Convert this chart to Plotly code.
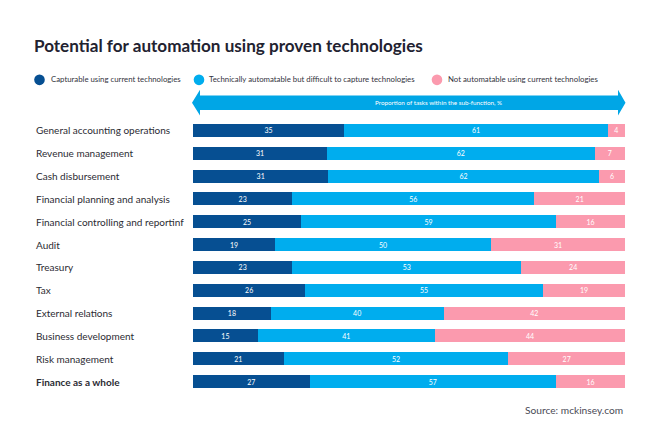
import plotly.graph_objects as go

categories = [
    "General accounting operations", "Revenue management", "Cash disbursement",
    "Financial planning and analysis", "Financial controlling and reportinf",
    "Audit", "Treasury", "Tax", "External relations", "Business development",
    "Risk management", "Finance as a whole",
]
capturable = [35, 31, 31, 23, 25, 19, 23, 26, 18, 15, 21, 27]
difficult = [61, 62, 62, 56, 59, 50, 53, 55, 40, 41, 52, 57]
not_auto = [4, 7, 6, 21, 16, 31, 24, 19, 42, 44, 27, 16]
series_names = [
    "Capturable using current technologies",
    "Technically automatable but difficult to capture technologies",
    "Not automatable using current technologies",
]
colors = ["#064f92", "#00adee", "#fb9aae"]

OFF = 8  # page body margin
W, H = 659 - OFF, 439 - OFF
L, R = 193 - OFF, 34
T = 119.1 - OFF
B = H - (392.7 - OFF)
pw, ph = W - L - R, H - T - B

def px_x(x):  # reference pixel -> paper x
    return (x - OFF - L) / pw

def px_y(y):  # reference pixel -> paper y
    return (H - B - (y - OFF)) / ph

FONT = "Lato"
fig = go.Figure()
for name, vals, c in zip(series_names, [capturable, difficult, not_auto], colors):
    fig.add_trace(go.Bar(
        y=categories, x=vals, orientation="h", name=name, showlegend=False,
        marker=dict(color=c, line=dict(width=0)),
        text=[str(v) for v in vals], textposition="inside", insidetextanchor="middle",
        textangle=0, constraintext="none",
        textfont=dict(color="white", size=7, family=FONT),
        hoverinfo="skip",
    ))

# legend (circle + text)
legend_pos = [(39.5, 49), (199, 207), (437, 446)]
for (cx, tx), name, c in zip(legend_pos, series_names, colors):
    r = 5.3
    fig.add_shape(type="circle", xref="paper", yref="paper",
                  x0=px_x(cx - r), x1=px_x(cx + r), y0=px_y(80 + r), y1=px_y(80 - r),
                  fillcolor=c, line=dict(width=0))
    fig.add_annotation(x=px_x(tx), xref="paper", y=px_y(79.5), yref="paper",
                       xanchor="left", yanchor="middle", text=name, showarrow=False,
                       font=dict(size=7.8, color="#333340", family=FONT))

# category labels, left aligned
for cat in categories:
    bold = cat == "Finance as a whole"
    fig.add_annotation(
        x=px_x(34), xref="paper", y=cat, yref="y", xanchor="left", yanchor="middle",
        text=f"<b>{cat}</b>" if bold else cat, showarrow=False,
        font=dict(size=10.0, color="#2b2b33", family=FONT),
    )

# double arrow
y0, y1 = px_y(95.7), px_y(110)
yh0, yh1 = px_y(90), px_y(115.5)
ym = px_y(102.9)
xl, xr = px_x(192), px_x(625.5)
xli, xri = px_x(200), px_x(618)
path = (f"M {xl},{ym} L {xli},{yh0} L {xli},{y0} L {xri},{y0} L {xri},{yh0} "
        f"L {xr},{ym} L {xri},{yh1} L {xri},{y1} L {xli},{y1} L {xli},{yh1} Z")
fig.add_shape(type="path", path=path, xref="paper", yref="paper",
              fillcolor="#00a6e6", line=dict(width=0))
fig.add_annotation(x=px_x(438), xref="paper", y=px_y(102.5), yref="paper",
                   xanchor="center", yanchor="middle",
                   text="Proportion of tasks within the sub-function, %",
                   showarrow=False, font=dict(size=6.3, color="white", family=FONT))

fig.add_annotation(x=px_x(625), xref="paper", y=px_y(410), yref="paper",
                   xanchor="right", yanchor="middle", text="Source: mckinsey.com",
                   showarrow=False, font=dict(size=10.2, color="#4a4a55", family=FONT))

fig.update_layout(
    width=W, height=H, barmode="stack", barnorm="percent", bargap=0.43,
    paper_bgcolor="white", plot_bgcolor="white", showlegend=False,
    margin=dict(l=L, r=R, t=T, b=B, autoexpand=False),
    title=dict(text="<b>Potential for automation using proven technologies</b>",
               x=(34 - OFF) / W, xanchor="left", y=1 - (46 - OFF) / H, yanchor="middle",
               font=dict(size=17.1, color="#222230", family=FONT)),
    xaxis=dict(range=[0, 100], visible=False, fixedrange=True),
    yaxis=dict(categoryorder="array", categoryarray=categories[::-1],
               showticklabels=False, showgrid=False, zeroline=False, fixedrange=True),
    font=dict(family=FONT),
)

fig.write_html("out.html")
